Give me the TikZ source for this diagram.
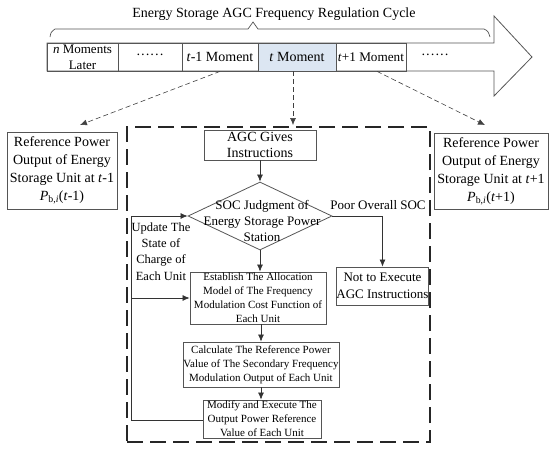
\documentclass[tikz,border=0pt]{standalone}
\usepackage{fontspec}
\setmainfont{Liberation Serif}
\usetikzlibrary{arrows.meta,calc,shapes.geometric}
\definecolor{ln}{HTML}{555555}
\definecolor{cellblue}{HTML}{DCE6F2}
\begin{document}
\begin{tikzpicture}[x=1pt,y=-1pt,
  box/.style={draw=ln, line width=0.8pt, inner sep=0pt, align=center, font=\fontsize{11}{14}\selectfont},
  bigbox/.style={draw=ln, line width=0.8pt, inner sep=0pt, align=center, font=\fontsize{14}{18}\selectfont},
  cell/.style={draw=ln, line width=0.8pt, inner sep=0pt, align=center, minimum height=28pt, font=\fontsize{14}{16}\selectfont},
  txt/.style={inner sep=0pt, align=center},
  arr/.style={draw=black!80, line width=0.7pt, -{Latex[length=7pt,width=6pt]}},
  dasharr/.style={draw=black!75, line width=0.6pt, dash pattern=on 5pt off 3pt, -{Latex[length=7pt,width=6pt]}},
  frame/.style={draw=black!85, line width=1.4pt, dash pattern=on 16pt off 7pt}
]
\useasboundingbox (0,0) rectangle (550,453);

% title and brace
\node[txt, font=\fontsize{14}{16}\selectfont] (title) at (274,14) {Energy Storage AGC Frequency Regulation Cycle};
\draw[draw=ln, line width=0.7pt] (50,37) .. controls (51,32) .. (55,29) -- (248,29) -- (253,22) -- (258,29) -- (484,29) .. controls (488,31) .. (490,37);

% big arrow
\draw[draw=ln, line width=0.8pt] (47,43) -- (494,43) -- (494,16) -- (532,57) -- (494,96) -- (494,71) -- (47,71) -- cycle;

% cells
\node[cell, minimum width=71pt, font=\fontsize{13}{16}\selectfont] (c1) at (82.5,57) {\textit{n} Moments\\Later};
\node[cell, minimum width=64pt] (c2) at (150,57) {······};
\node[cell, minimum width=76pt] (c3) at (220,57) {\textit{t}-1 Moment};
\node[cell, minimum width=78pt, fill=cellblue] (c4) at (297,57) {\textit{t} Moment};
\node[cell, minimum width=70pt, font=\fontsize{13.2}{16}\selectfont] (c5) at (371,57) {\textit{t}+1 Moment};
\node[txt, font=\fontsize{14}{16}\selectfont] (c6) at (435,57) {······};

% side boxes
\node[bigbox, minimum width=110pt, minimum height=77pt] (lbox) at (62,170.5)
  {Reference Power\\Output of Energy\\Storage Unit at \textit{t}-1\\\textit{P}\textsubscript{b,\textit{i}}(\textit{t}-1)};
\node[bigbox, minimum width=114pt, minimum height=76pt] (rbox) at (491,171)
  {Reference Power\\Output of Energy\\Storage Unit at \textit{t}+1\\\textit{P}\textsubscript{b,\textit{i}}(\textit{t}+1)};

\coordinate (lend) at (80,125);
\coordinate (rend) at (485,125);
\coordinate (mend) at (293,125);
\draw[dasharr] (c3.south) -- (lend);
\draw[dasharr] ($(c5.south)+(6,0)$) -- (rend);
\draw[dasharr] (c4.south -| mend) -- (mend);

% dashed frame
\node[frame, minimum width=303pt, minimum height=315pt, inner sep=0pt] (fr) at (278.5,284.5) {};

% flowchart
\node[box, minimum width=112pt, minimum height=30pt, font=\fontsize{14}{16}\selectfont] (agc) at (260,145) {AGC Gives\\Instructions};
\node[draw=ln, line width=0.8pt, diamond, minimum width=144pt, minimum height=68pt, inner sep=0pt] (dia) at (260,216) {};
\node[txt, font=\fontsize{13}{16}\selectfont] (diat) at (262,221) {SOC Judgment of\\Energy Storage Power\\Station};
\node[box, minimum width=91pt, minimum height=38pt, font=\fontsize{13}{16.5}\selectfont] (nbox) at (382.5,286) {Not to Execute\\AGC Instructions};
\node[box, minimum width=136pt, minimum height=52pt] (est) at (258,298) {Establish The Allocation\\Model of The Frequency\\Modulation Cost Function of\\Each Unit};
\node[box, minimum width=156pt, minimum height=45pt] (calc) at (261,364.5) {Calculate The Reference Power\\Value of The Secondary Frequency\\Modulation Output of Each Unit};
\node[box, minimum width=118pt, minimum height=38pt] (mod) at (262,419) {Modify and Execute The\\Output Power Reference\\Value of Each Unit};

\node[txt, font=\fontsize{12.5}{16.3}\selectfont] (upd) at (161,251.5) {Update The\\State of\\Charge of\\Each Unit};
\node[txt, font=\fontsize{13}{16}\selectfont] (poor) at (378,205) {Poor Overall SOC};

\draw[arr] (agc.south) -- (dia.north);
\draw[arr] (dia.east) -| (nbox.north);
\draw[arr] (dia.south) -- (dia.south |- est.north);
\draw[arr] (calc.north |- est.south) -- (calc.north);
\draw[arr] (calc.south) -- (calc.south |- mod.north);

\coordinate (fb1) at (131,420);
\coordinate (fb2) at (131,216);
\draw[arr] (mod.west |- fb1) -- (fb1) -- (fb2) -- (dia.west);
\draw[arr] (fb1 |- est.west) -- (est.west);
\end{tikzpicture}
\end{document}
